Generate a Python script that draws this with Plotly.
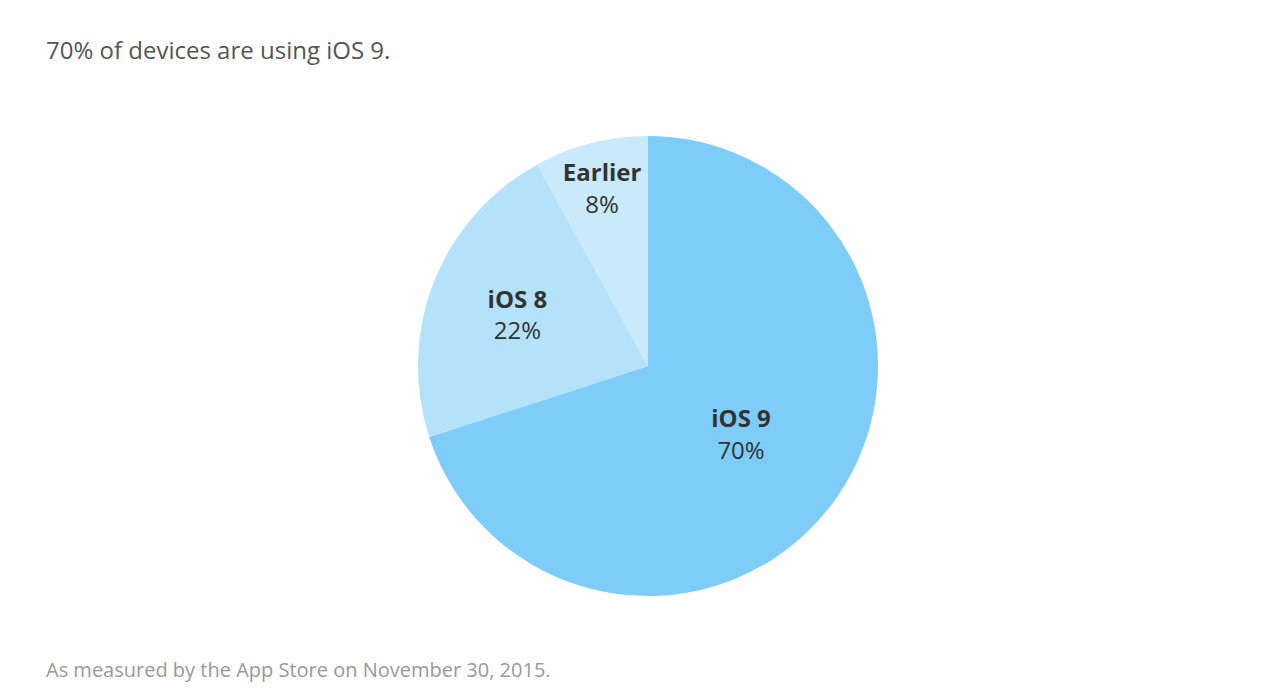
import plotly.graph_objects as go

labels = ["iOS 9", "iOS 8", "Earlier"]
values = [70, 22, 8]
colors = ["#7dcdf8", "#b4e2fa", "#c9eafb"]

fig = go.Figure(go.Pie(
    labels=labels, values=values, sort=False, direction="clockwise", rotation=0,
    marker=dict(colors=colors, line=dict(width=0)),
    texttemplate="<b>%{label}</b><br>%{value}%", textposition="inside",
    insidetextorientation="horizontal",
    textfont=dict(family="Open Sans", size=24, color="#333333"),
    domain=dict(x=[0.32, 0.68], y=[1-588/694, 1-128/694]),
    showlegend=False, hoverinfo="skip"))

fig.update_layout(
    width=1280, height=694, margin=dict(l=0, r=0, t=0, b=0),
    paper_bgcolor="white", plot_bgcolor="white", uniformtext=dict(minsize=24, mode="show"),
    annotations=[
        dict(text="70% of devices are using iOS 9.", x=36/1280, y=1-42/694, xref="paper", yref="paper",
             xanchor="left", yanchor="middle", showarrow=False,
             font=dict(family="Open Sans", size=24, color="#555555")),
        dict(text="As measured by the App Store on November 30, 2015.", x=36/1280, y=1-661/694,
             xref="paper", yref="paper", xanchor="left", yanchor="middle", showarrow=False,
             font=dict(family="Open Sans", size=20, color="#999999")),
    ])
fig.write_html("out.html")
